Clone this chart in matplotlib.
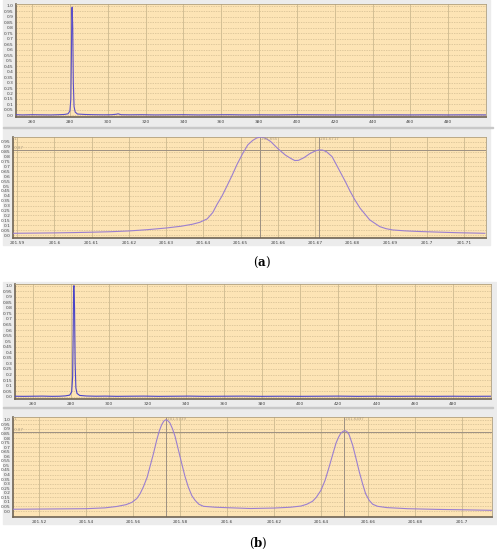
import matplotlib
matplotlib.use("Agg")
import matplotlib.pyplot as plt
from matplotlib.patches import Rectangle

# --- donnees ---
# (a) haut : spectre large, pic unique vers 281
a1_x = [251.5, 255, 260, 265, 270, 274, 277, 279.0, 280.0, 280.5, 280.8, 281.0, 281.2,
        281.5, 281.8, 282.2, 282.8, 284, 288, 293, 298, 302, 304.5, 305.5, 307, 312,
        318, 325, 332, 340, 348, 356, 364, 372, 380, 390, 400, 410, 420, 430, 440, 450,
        460, 470, 480, 490, 500]
a1_y = [0.006, 0.004, 0.006, 0.005, 0.004, 0.006, 0.008, 0.014, 0.04, 0.15, 0.55, 0.97,
        0.99, 0.8, 0.3, 0.08, 0.03, 0.012, 0.008, 0.006, 0.005, 0.006, 0.01, 0.014,
        0.006, 0.005, 0.006, 0.004, 0.005, 0.006, 0.004, 0.005, 0.006, 0.004, 0.005,
        0.004, 0.006, 0.005, 0.004, 0.005, 0.004, 0.005, 0.004, 0.005, 0.004, 0.005,
        0.004]

# (a) bas : zoom, deux pics qui se chevauchent
a2_x = [201.5889, 201.595, 201.600, 201.605, 201.610, 201.615, 201.620, 201.625,
        201.630, 201.634, 201.637, 201.639, 201.641, 201.6425, 201.6436, 201.645,
        201.6463, 201.6477, 201.649, 201.6505, 201.6519, 201.6532, 201.6543, 201.6553,
        201.6565, 201.658, 201.660, 201.662, 201.6635, 201.6645, 201.6655, 201.667,
        201.6685, 201.670, 201.671, 201.672, 201.673, 201.6745, 201.6766, 201.678,
        201.6793, 201.6806, 201.682, 201.6846, 201.6873, 201.689, 201.6908, 201.694,
        201.698, 201.703, 201.708, 201.7155]
a2_y = [0.018, 0.020, 0.022, 0.025, 0.029, 0.034, 0.042, 0.055, 0.072, 0.09, 0.11,
        0.13, 0.165, 0.23, 0.31, 0.40, 0.50, 0.61, 0.72, 0.83, 0.92, 0.965, 0.99, 1.0,
        0.99, 0.955, 0.88, 0.815, 0.78, 0.76, 0.762, 0.79, 0.83, 0.858, 0.868, 0.866,
        0.85, 0.80, 0.65, 0.55, 0.45, 0.36, 0.275, 0.155, 0.086, 0.065, 0.052, 0.043,
        0.036, 0.030, 0.024, 0.018]

# (b) haut
b1_x = [250.6, 255, 260, 265, 270, 274, 277, 279.3, 280.3, 280.8, 281.1, 281.3, 281.5,
        281.8, 282.1, 282.5, 283.1, 284.5, 288, 293, 298, 304, 310, 318, 326, 334, 342,
        350, 360, 370, 380, 390, 400, 410, 420, 430, 440, 450, 460, 470, 480, 490, 500]
b1_y = [0.005, 0.004, 0.005, 0.006, 0.004, 0.005, 0.008, 0.015, 0.045, 0.18, 0.6,
        0.98, 1.0, 0.8, 0.3, 0.08, 0.03, 0.012, 0.007, 0.005, 0.006, 0.004, 0.005,
        0.006, 0.004, 0.005, 0.006, 0.004, 0.005, 0.006, 0.004, 0.005, 0.004, 0.005,
        0.006, 0.004, 0.005, 0.004, 0.005, 0.004, 0.005, 0.004, 0.005]

# (b) bas : deux pics separes
b2_x = [201.5089, 201.520, 201.530, 201.540, 201.548, 201.553, 201.557, 201.5595,
        201.5616, 201.563, 201.5644, 201.566, 201.5672, 201.5687, 201.5701, 201.5712,
        201.5722, 201.5731, 201.5739, 201.5748, 201.5757, 201.5768, 201.5779, 201.5793,
        201.5807, 201.5821, 201.5835, 201.585, 201.5864, 201.588, 201.590, 201.595,
        201.600, 201.610, 201.620, 201.627, 201.6315, 201.634, 201.6364, 201.638,
        201.640, 201.6418, 201.6435, 201.645, 201.6464, 201.6475, 201.6485, 201.6495,
        201.6502, 201.651, 201.652, 201.6535, 201.6549, 201.6563, 201.6577, 201.659,
        201.6605, 201.662, 201.6641, 201.668, 201.6768, 201.690, 201.6981, 201.713]
b2_y = [0.020, 0.022, 0.024, 0.026, 0.035, 0.050, 0.07, 0.095, 0.137, 0.19, 0.265,
        0.37, 0.486, 0.63, 0.78, 0.88, 0.946, 0.985, 1.0, 0.99, 0.965, 0.90, 0.817,
        0.67, 0.523, 0.38, 0.265, 0.17, 0.118, 0.075, 0.052, 0.042, 0.037, 0.028,
        0.033, 0.042, 0.055, 0.075, 0.107, 0.15, 0.228, 0.34, 0.486, 0.62, 0.744, 0.81,
        0.854, 0.875, 0.88, 0.872, 0.835, 0.72, 0.578, 0.43, 0.30, 0.19, 0.118, 0.075,
        0.052, 0.038, 0.026, 0.018, 0.015, 0.008]

# reperes (curseurs) poses dans le logiciel
a2_peaks = [201.6553, 201.6710]
a2_peak_labels = ["201.655", "201.6717"]
b2_peaks = [201.5739, 201.6500]
b2_peak_labels = ["201.5739", "201.6497"]
cursor_level = 0.87

top_xticks = [260, 280, 300, 320, 340, 360, 380, 400, 420, 440, 460, 480]
a2_xticks = [201.59, 201.6, 201.61, 201.62, 201.63, 201.64, 201.65, 201.66, 201.67,
             201.68, 201.69, 201.7, 201.71]
b2_xticks = [201.52, 201.54, 201.56, 201.58, 201.6, 201.62, 201.64, 201.66, 201.68,
             201.7]
yvals = [i * 0.05 for i in range(21)]

W, H = 497, 550
BG = "#fde4b5"
GRAY = "#ececec"


def rect(l, t, r, b):
    return [l / W, 1 - b / H, (r - l) / W, (b - t) / H]


def ylab(v):
    s = f"{round(v, 2):g}"
    return "0.0" if s == "0" else ("1.0" if s == "1" else s)


def xlab(v):
    return f"{round(v, 2):g}"


def style_axes(ax, xticks, ylim, ymax_tick):
    ax.set_facecolor(BG)
    ax.set_ylim(*ylim)
    ax.set_xticks(xticks)
    ax.set_xticklabels([xlab(v) for v in xticks])
    yt = [v for v in yvals if v <= ymax_tick + 1e-9]
    ax.set_yticks(yt)
    ax.set_yticklabels([ylab(v) for v in yt])
    ax.tick_params(labelsize=3.2, length=0, pad=2, colors="#444444")
    for v in xticks:
        ax.axvline(v, color="#cdb98f", lw=0.6, zorder=1)
    for v in yt:
        ax.axhline(v, color="#d3bd92", lw=0.5, ls=(0, (2, 1.5)), zorder=1)
    for side in ["top", "right"]:
        ax.spines[side].set_color("#b0a080")
        ax.spines[side].set_linewidth(0.6)
    for side in ["bottom", "left"]:
        ax.spines[side].set_color("#6f6455")
        ax.spines[side].set_linewidth(1.2)


def cursors(ax, peaks, labels):
    for p, lab in zip(peaks, labels):
        ax.axvline(p, color="#9c9082", lw=0.7, zorder=2)
        ax.text(p, ax.get_ylim()[1], " " + lab, fontsize=2.8, color="#a89880",
                va="top", ha="left", zorder=4)
    ax.axhline(cursor_level, color="#9c9082", lw=0.7, zorder=2)
    x0 = ax.get_xlim()[0]
    ax.text(x0, cursor_level, " 0.87", fontsize=2.8, color="#a89880", va="bottom",
            ha="left", zorder=4)
    ax.text(x0, ax.get_ylim()[1], " 1", fontsize=2.8, color="#a89880", va="top",
            ha="left", zorder=4)


fig = plt.figure(figsize=(W / 100, H / 100), dpi=100)
plt.rcParams["mathtext.fontset"] = "dejavuserif"

# fonds gris des captures d'ecran (sous les axes)
for (l, t, r, b) in [(3, 0, 490, 245), (3, 282, 496, 524)]:
    fig.patches.append(Rectangle((l / W, 1 - b / H), (r - l) / W, (b - t) / H,
                                 transform=fig.transFigure, color=GRAY, zorder=-2))
for y in [128, 408]:
    fig.patches.append(Rectangle((3 / W, 1 - y / H), 490 / W, 0.6 / H,
                                 transform=fig.transFigure, color="#c8c8c8", zorder=-1))

# (a) haut
ax = fig.add_axes(rect(16, 4, 486, 117))
ax.set_xlim(251.5, 500)
style_axes(ax, top_xticks, (-0.015, 1.018), 1.0)
ax.plot(a1_x, a1_y, color="#5b4ec8", lw=0.8, zorder=3)

# (a) bas
ax = fig.add_axes(rect(13, 137, 486, 238))
ax.set_xlim(201.5889, 201.7158)
style_axes(ax, a2_xticks, (-0.03, 1.0), 0.95)
ax.plot(a2_x, a2_y, color="#9b7fd0", lw=0.8, zorder=3)
cursors(ax, a2_peaks, a2_peak_labels)

# (b) haut
ax = fig.add_axes(rect(15, 284, 491, 399))
ax.set_xlim(250.6, 500)
style_axes(ax, top_xticks, (-0.02, 1.015), 1.0)
ax.plot(b1_x, b1_y, color="#4a44c8", lw=0.8, zorder=3)

# (b) bas
ax = fig.add_axes(rect(13, 417, 492, 517))
ax.set_xlim(201.5089, 201.7128)
style_axes(ax, b2_xticks, (-0.065, 1.03), 1.0)
ax.plot(b2_x, b2_y, color="#9b7fd0", lw=0.8, zorder=3)
cursors(ax, b2_peaks, b2_peak_labels)

fig.text(262 / W, 1 - 262 / H, r"($\mathbf{a}$)", fontsize=8.5, ha="center",
         va="center", family="DejaVu Serif")
fig.text(258 / W, 1 - 543 / H, r"($\mathbf{b}$)", fontsize=8.5, ha="center",
         va="center", family="DejaVu Serif")

fig.savefig("out.png", dpi=100)
